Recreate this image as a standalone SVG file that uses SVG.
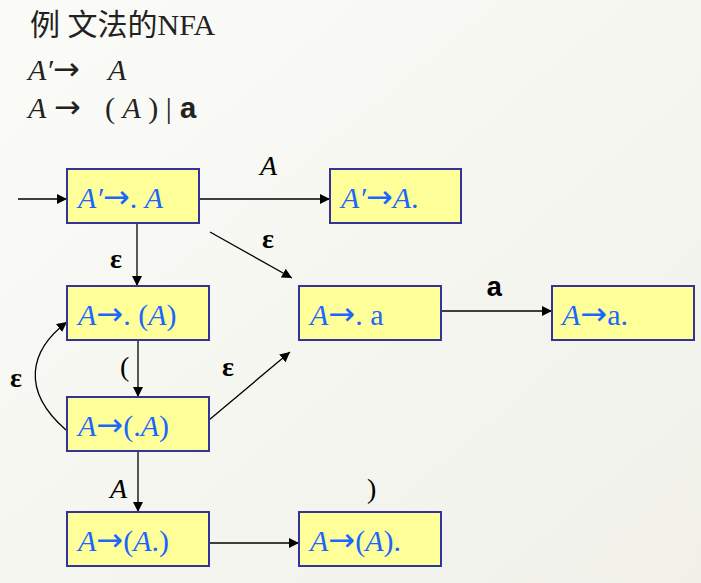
<svg xmlns="http://www.w3.org/2000/svg" width="701" height="583" viewBox="0 0 701 583">
<defs>
<marker id="ar" viewBox="0 0 10 10" refX="10" refY="5" markerWidth="10" markerHeight="10" markerUnits="userSpaceOnUse" orient="auto"><path d="M0,0L10,5L0,10z" fill="#000"/></marker>
<linearGradient id="bg" x1="0" y1="0" x2="1" y2="1"><stop offset="0" stop-color="#fbfbf8"/><stop offset="1" stop-color="#f1f1ea"/></linearGradient>
</defs>
<style>
.b rect{fill:#ffff99;stroke:#333399;stroke-width:2}
.b text{fill:#1a66ff;font-family:"Liberation Serif",serif;font-size:30px}
.i{font-style:italic}
.r{font-family:"DejaVu Sans",sans-serif;font-size:32px}
.c path{fill:none;stroke:#000;stroke-width:1.3;marker-end:url(#ar)}
.l{font-family:"Liberation Serif",serif;font-size:28px;fill:#000}
.h{font-family:"Liberation Serif","Noto Sans CJK SC",serif;font-size:30px;fill:#222}
text.m{font-family:"Liberation Mono",monospace;font-weight:bold}
</style>
<rect width="701" height="583" fill="url(#bg)"/>
<text class="h" x="30" y="35" fill="#444">例 文法的NFA</text>
<text class="h" x="28" y="80"><tspan class="i">A′</tspan><tspan class="r">→</tspan><tspan class="i" x="108">A</tspan></text>
<text class="h" x="28" y="118"><tspan class="i">A</tspan><tspan class="r" x="54">→</tspan><tspan x="105">( </tspan><tspan class="i">A</tspan> ) | <tspan style="font-family:'Liberation Mono',monospace;font-weight:bold">a</tspan></text>
<g class="c">
<path d="M18,199H67"/>
<path d="M137,222V286"/>
<path d="M199,199H330"/>
<path d="M210,232L292,278"/>
<path d="M441,311H552"/>
<path d="M138,340V397"/>
<path d="M209,420L290,352"/>
<path d="M66,430C20,390 30,350 67,322"/>
<path d="M138,451V512"/>
<path d="M209,543H299"/>
</g>
<text class="l i" x="260" y="175">A</text>
<text class="l" x="262" y="248" font-weight="bold">ε</text>
<text class="l" x="486" y="296" style="font-family:'Liberation Mono',monospace;font-weight:bold">a</text>
<text class="l" x="110" y="268" font-weight="bold">ε</text>
<text class="l" x="120" y="376">(</text>
<text class="l" x="222" y="376" font-weight="bold">ε</text>
<text class="l" x="10" y="387" font-weight="bold">ε</text>
<text class="l i" x="110" y="498">A</text>
<text class="l" x="367" y="498">)</text>
<g id="n1" class="b"><rect x="67" y="169" width="132" height="54"/><text x="78" y="208"><tspan class="i">A′</tspan><tspan class="r">→</tspan>. <tspan class="i">A</tspan></text></g>
<g id="n2" class="b"><rect x="330" y="169" width="131" height="54"/><text x="341" y="208"><tspan class="i">A′</tspan><tspan class="r">→</tspan><tspan class="i">A</tspan>.</text></g>
<g id="n3" class="b"><rect x="67" y="286" width="142" height="54"/><text x="78" y="325"><tspan class="i">A</tspan><tspan class="r">→</tspan>. (<tspan class="i">A</tspan>)</text></g>
<g id="n4" class="b"><rect x="299" y="286" width="142" height="54"/><text x="310" y="325"><tspan class="i">A</tspan><tspan class="r">→</tspan>. a</text></g>
<g id="n5" class="b"><rect x="552" y="286" width="142" height="54"/><text x="562" y="325"><tspan class="i">A</tspan><tspan class="r">→</tspan>a.</text></g>
<g id="n6" class="b"><rect x="67" y="397" width="142" height="54"/><text x="78" y="436"><tspan class="i">A</tspan><tspan class="r">→</tspan>(.<tspan class="i">A</tspan>)</text></g>
<g id="n7" class="b"><rect x="67" y="512" width="142" height="54"/><text x="78" y="551"><tspan class="i">A</tspan><tspan class="r">→</tspan>(<tspan class="i">A</tspan>.)</text></g>
<g id="n8" class="b"><rect x="299" y="512" width="142" height="54"/><text x="310" y="551"><tspan class="i">A</tspan><tspan class="r">→</tspan>(<tspan class="i">A</tspan>).</text></g>
</svg>
